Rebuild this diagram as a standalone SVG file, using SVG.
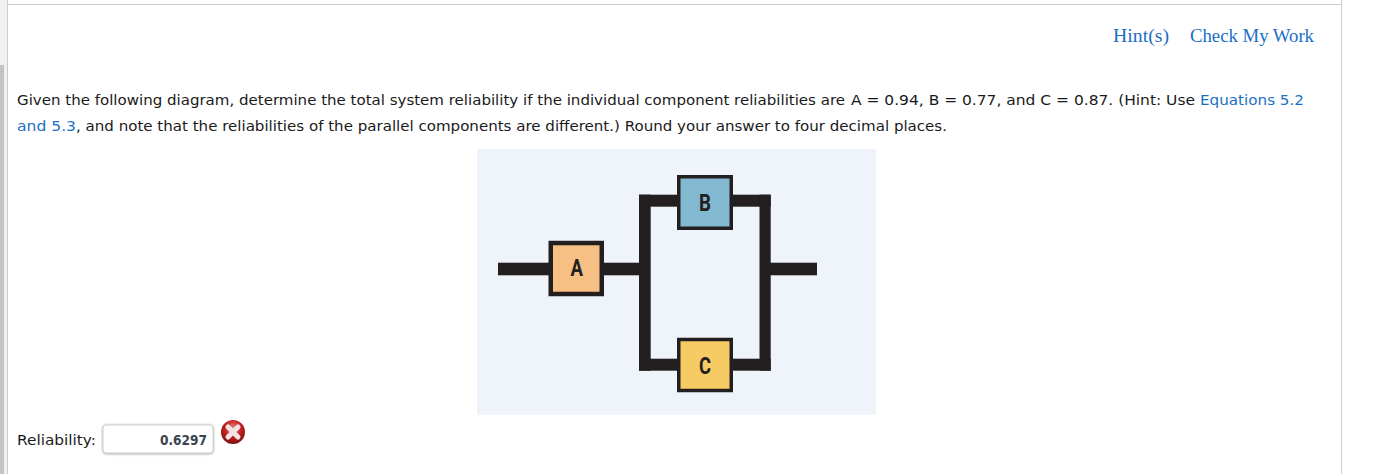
<svg xmlns="http://www.w3.org/2000/svg" width="1388" height="474" viewBox="0 0 1388 474">
<defs>
<radialGradient id="err" cx="50%" cy="35%" r="65%"><stop offset="0" stop-color="#ea8a8a"/><stop offset="0.55" stop-color="#c22020"/><stop offset="1" stop-color="#7a0f0f"/></radialGradient>
<filter id="sh" x="-10%" y="-20%" width="120%" height="140%"><feDropShadow dx="0" dy="0.5" stdDeviation="1" flood-color="#888" flood-opacity="0.8"/></filter>
</defs>
<style>
.t{font-family:"DejaVu Sans","Verdana",sans-serif;font-size:14.6px;fill:#1a1a1a}
.l{fill:#1a6fc4}
.s{font-family:"Liberation Serif","DejaVu Serif",serif;font-size:19px;fill:#1a6fc4}
.wire{fill:#231f20}
.lab{font-family:"Roboto","Liberation Sans",sans-serif;font-size:24.5px;font-weight:700;fill:#231f20}
.rule{fill:#cccccc}
</style>
<rect width="1388" height="474" fill="#ffffff"/>
<rect x="0" y="0" width="7" height="474" fill="#f0f0f0"/>
<rect x="0" y="65" width="4" height="409" fill="#c3c3c3"/>
<rect class="rule" x="7" y="4" width="1335" height="1"/>
<rect class="rule" x="7" y="0" width="1" height="474"/>
<rect class="rule" x="1341" y="0" width="1" height="474"/>

<text class="s" x="1113" y="42" textLength="56" lengthAdjust="spacingAndGlyphs">Hint(s)</text>
<text class="s" x="1190" y="42" textLength="124" lengthAdjust="spacingAndGlyphs">Check My Work</text>

<text class="t" x="17" y="105" textLength="828" lengthAdjust="spacingAndGlyphs">Given the following diagram, determine the total system reliability if the individual component reliabilities are</text>
<text class="t" x="851" y="105" textLength="344" lengthAdjust="spacingAndGlyphs">A = 0.94, B = 0.77, and C = 0.87. (Hint: Use</text>
<text class="t l" x="1200" y="105" textLength="104" lengthAdjust="spacingAndGlyphs">Equations 5.2</text>
<text class="t l" x="17" y="131" textLength="59" lengthAdjust="spacingAndGlyphs">and 5.3</text>
<text class="t" x="76" y="131" textLength="871" lengthAdjust="spacingAndGlyphs">, and note that the reliabilities of the parallel components are different.) Round your answer to four decimal places.</text>

<rect x="477" y="149" width="399" height="266" fill="#eff4fb"/>
<g id="connectors">
<rect class="wire" x="498" y="262.7" width="51" height="12.6"/>
<rect class="wire" x="604" y="262.7" width="36" height="12.6"/>
<rect class="wire" x="639" y="194.7" width="38" height="12"/>
<rect class="wire" x="639" y="194.7" width="11.7" height="176"/>
<rect class="wire" x="639" y="358.7" width="38" height="12"/>
<rect class="wire" x="733" y="194.7" width="37.7" height="12"/>
<rect class="wire" x="759.5" y="194.7" width="11.2" height="176"/>
<rect class="wire" x="733" y="358.7" width="37.7" height="12"/>
<rect class="wire" x="770" y="262.7" width="47" height="12.6"/>
</g>
<g id="node-a">
<rect x="550.75" y="243" width="51" height="51" fill="#f6c084" stroke="#231f20" stroke-width="4.5"/>
<text class="lab" x="570.5" y="276" textLength="12.5" lengthAdjust="spacingAndGlyphs">A</text>
</g>
<g id="node-b">
<rect x="678.75" y="176.75" width="52.5" height="51.5" fill="#82b8d0" stroke="#231f20" stroke-width="3.5"/>
<text class="lab" x="699" y="210.7" textLength="12" lengthAdjust="spacingAndGlyphs">B</text>
</g>
<g id="node-c">
<rect x="678.75" y="339.5" width="52.5" height="51" fill="#f7cb63" stroke="#231f20" stroke-width="3.5"/>
<text class="lab" x="699" y="373.7" textLength="12" lengthAdjust="spacingAndGlyphs">C</text>
</g>

<text class="t" x="17" y="445" textLength="79" lengthAdjust="spacingAndGlyphs">Reliability:</text>
<rect x="103" y="425" width="110" height="28" rx="3" fill="#ffffff" stroke="#d0d0d0" filter="url(#sh)"/>
<text class="t" x="160" y="445" textLength="47" lengthAdjust="spacingAndGlyphs" style="font-weight:700;font-size:14px;fill:#3a4450">0.6297</text>
<g id="error-icon">
<circle cx="233" cy="432" r="12" fill="url(#err)"/>
<path d="M228 427L238 437M238 427L228 437" stroke="#f2e4e4" stroke-width="5" stroke-linecap="round"/>
</g>
</svg>
